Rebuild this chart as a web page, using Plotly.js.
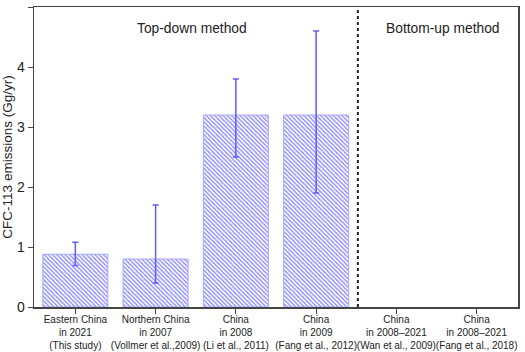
<!DOCTYPE html>
<html><head><meta charset="utf-8">
<script src="https://cdn.plot.ly/plotly-3.0.1.min.js"></script>
<style>html,body{margin:0;padding:0;background:#fff}#chart{width:525px;height:352px}</style>
</head><body><div id="chart"></div>
<script>
const categories = [
  "Eastern China<br>in 2021<br>(This study)",
  "Northern China<br>in 2007<br>(Vollmer et al.,2009)",
  "China<br>in 2008<br>(Li et al., 2011)",
  "China<br>in 2009<br>(Fang et al., 2012)",
  "China<br>in 2008–2021<br>(Wan et al., 2009)",
  "China<br>in 2008–2021<br>(Fang et al., 2018)"
];
const emissions = [0.88, 0.80, 3.2, 3.2, null, null];
const errUpper = [1.08, 1.7, 3.8, 4.6, null, null];
const errLower = [0.69, 0.4, 2.5, 1.9, null, null];
const sectionLabels = ["Top-down method", "Bottom-up method"];
const sectionX = [1.45, 4.58];
const dividerX = 3.52;

const xIdx = categories.map((c, i) => i);
const plus = emissions.map((v, i) => v == null ? null : errUpper[i] - v);
const minus = emissions.map((v, i) => v == null ? null : v - errLower[i]);

const trace = {
  type: 'bar',
  x: xIdx,
  y: emissions,
  width: 0.81,
  marker: {
    color: '#ffffff',
    line: {color: '#a8a8ff', width: 1},
    pattern: {shape: '\\', fgcolor: '#8a8aff', bgcolor: '#ffffff', size: 3, solidity: 0.45}
  },
  error_y: {
    type: 'data', symmetric: false, array: plus, arrayminus: minus,
    color: '#5c5cff', thickness: 1.5, width: 3
  },
  hoverinfo: 'none'
};

const layout = {
  width: 525, height: 352,
  margin: {l: 34, r: 7, t: 7, b: 45, pad: 0},
  paper_bgcolor: '#ffffff', plot_bgcolor: '#ffffff',
  showlegend: false,
  font: {family: 'Liberation Sans, Arial, sans-serif', color: '#222'},
  xaxis: {
    range: [-0.515, 5.515],
    tickmode: 'array', tickvals: xIdx, ticktext: categories,
    tickangle: 0, automargin: false, ticklabelstandoff: -3,
    ticks: 'outside', ticklen: 5, tickwidth: 1, tickcolor: '#444',
    showline: true, linecolor: '#444', linewidth: 1.5, mirror: true,
    showgrid: false, zeroline: false,
    tickfont: {size: 10, color: '#222'}
  },
  yaxis: {
    range: [0, 5],
    tickvals: [0, 1, 2, 3, 4, 5],
    ticks: 'outside', ticklen: 5, tickwidth: 1, tickcolor: '#444',
    showline: true, linecolor: '#444', linewidth: 1.5, mirror: true,
    showgrid: false, zeroline: false, automargin: false,
    tickfont: {size: 14, color: '#222'},
    title: {text: 'CFC-113 emissions (Gg/yr)', font: {size: 13.5, color: '#222'}, standoff: 4}
  },
  shapes: [{
    type: 'line', xref: 'x', yref: 'paper', x0: dividerX, x1: dividerX, y0: 0, y1: 1,
    line: {color: '#222', width: 2, dash: 'dot'}
  }],
  annotations: sectionLabels.map((t, i) => ({
    text: t, xref: 'x', yref: 'y', x: sectionX[i], y: 4.64,
    showarrow: false, font: {size: 13.8, color: '#222'}
  }))
};

Plotly.newPlot('chart', [trace], layout, {staticPlot: true});
</script></body></html>
